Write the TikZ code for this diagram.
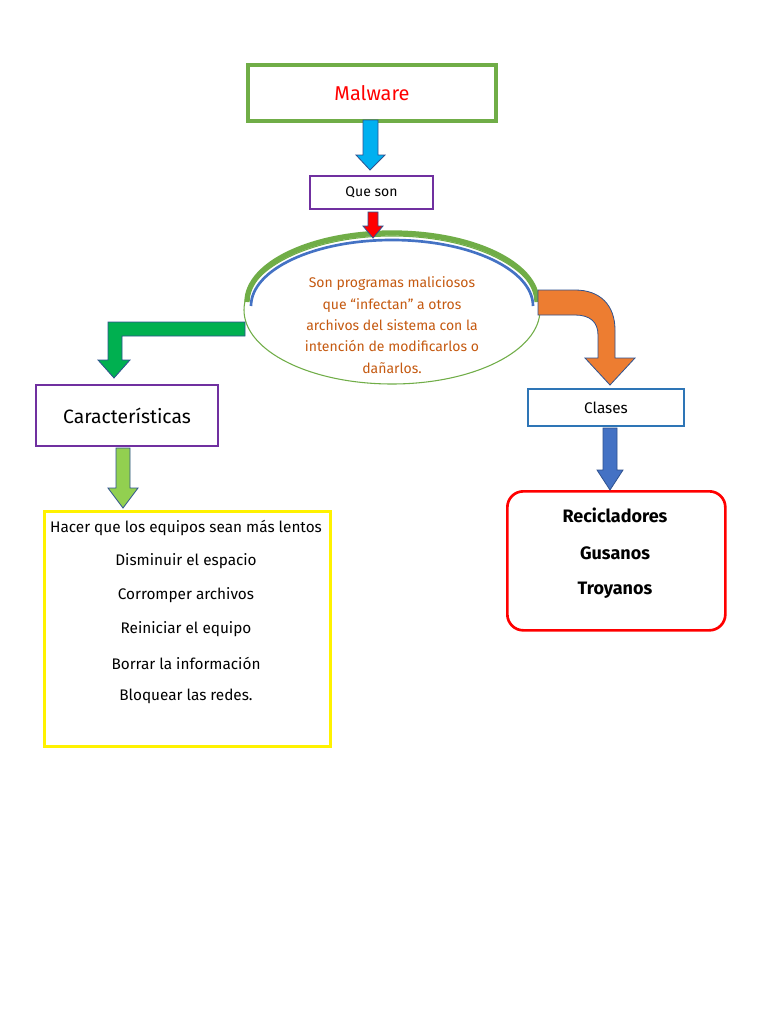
\documentclass[tikz,border=0pt]{standalone}
\usepackage{fontspec}
\setmainfont{Fira Sans}
\usetikzlibrary{positioning, shapes.geometric}
\definecolor{boxgreen}{RGB}{112,173,71}
\definecolor{boxpurple}{RGB}{112,48,160}
\definecolor{boxblue}{RGB}{46,117,182}
\definecolor{txtorange}{RGB}{197,90,17}
\definecolor{arrcyan}{RGB}{0,176,240}
\definecolor{arrgreen}{RGB}{0,176,80}
\definecolor{arrlime}{RGB}{146,208,80}
\definecolor{arrorange}{RGB}{237,125,49}
\definecolor{arrblue}{RGB}{68,114,196}
\definecolor{edgeblue}{RGB}{47,82,143}
\tikzset{
  box/.style={draw, line width=2pt, minimum width=#1, inner sep=2pt},
  blockarrow/.style={fill=#1, draw=edgeblue, line width=0.6pt}
}
\begin{document}
\begin{tikzpicture}[x=0.75pt, y=-0.75pt]
  \useasboundingbox (0,0) rectangle (768,1024);
  \fill[white] (0,0) rectangle (768,1024);
  % boxes
  \node (malware) [box=248*0.75pt, draw=boxgreen, line width=3pt, minimum height=56*0.75pt, text=red, font=\fontsize{15}{18}\selectfont] at (372,93) {Malware};
  \node (queson) [box=123*0.75pt, draw=boxpurple, line width=1.2pt, minimum height=33*0.75pt, font=\fontsize{10.5}{12}\selectfont] at (371.5,192.5) {Que son};
  \node (caract) [box=182*0.75pt, draw=boxpurple, minimum height=61*0.75pt, font=\fontsize{14.5}{17}\selectfont] at (127,415.5) {Características};
  \node (clases) [box=156*0.75pt, draw=boxblue, minimum height=37*0.75pt, font=\fontsize{11.5}{13}\selectfont] at (606,407.5) {Clases};
  \node (lista) [box=286*0.75pt, draw=yellow, line width=2.5pt, minimum height=235*0.75pt, anchor=north west] at (43,510) {};
  \node (tipos) [box=218*0.75pt, draw=red, rounded corners=12pt, minimum height=139*0.75pt, anchor=north west] at (506,490) {};
  % ellipse
  \node (def) [ellipse, draw=boxgreen, line width=0.8pt, minimum width=296*0.75pt, minimum height=148*0.75pt, inner sep=0pt] at (392,310) {};
  \draw[boxgreen, line width=4pt] (247,302) arc (180:360:145 and 69);
  \draw[arrblue, line width=2pt] (251,306) arc (180:360:141 and 66);
  \node (deftxt) [text=txtorange, align=center, font=\fontsize{10.5}{16}\selectfont] at (392,325) {Son programas maliciosos\\que “infectan” a otros\\archivos del sistema con la\\intención de modificarlos o\\dañarlos.};
  % texts of lists
  \foreach \t [count=\i] in {Hacer que los equipos sean más lentos, Disminuir el espacio, Corromper archivos, Reiniciar el equipo, Borrar la información, Bloquear las redes.}
    \node (item\i) [font=\fontsize{11.5}{13}\selectfont] at (186, 494+33.8*\i) {\t};
  \foreach \t [count=\i] in {Recicladores, Gusanos, Troyanos}
    \node (tipo\i) [font=\fontsize{13.5}{16}\bfseries] at (615, 478+37.5*\i) {\t};
  % block arrows
  \fill[blockarrow=arrcyan] (363,120) -- (378,120) -- (378,155) -- (385,155) -- (370,170) -- (356,155) -- (363,155) -- cycle;
  \fill[blockarrow=red] (368,212) -- (378,212) -- (378,226) -- (383,226) -- (373,238) -- (363,226) -- (368,226) -- cycle;
  \fill[blockarrow=arrgreen] (245,322) -- (245,336) -- (122,336) -- (122,360) -- (130,360) -- (114,378) -- (98,360) -- (108,360) -- (108,322) -- cycle;
  \fill[blockarrow=arrorange] (538,290) -- (575,290) .. controls (600,290) and (615,305) .. (615,330) -- (615,358) -- (635,358) -- (610,385) -- (585,358) -- (598,358) -- (598,335) .. controls (598,322) and (590,315) .. (575,315) -- (538,315) -- cycle;
  \fill[blockarrow=arrlime] (116,448) -- (130,448) -- (130,488) -- (138,488) -- (123,508) -- (108,488) -- (116,488) -- cycle;
  \fill[blockarrow=arrblue] (603,428) -- (617,428) -- (617,470) -- (623,470) -- (610,490) -- (597,470) -- (603,470) -- cycle;
\end{tikzpicture}
\end{document}
